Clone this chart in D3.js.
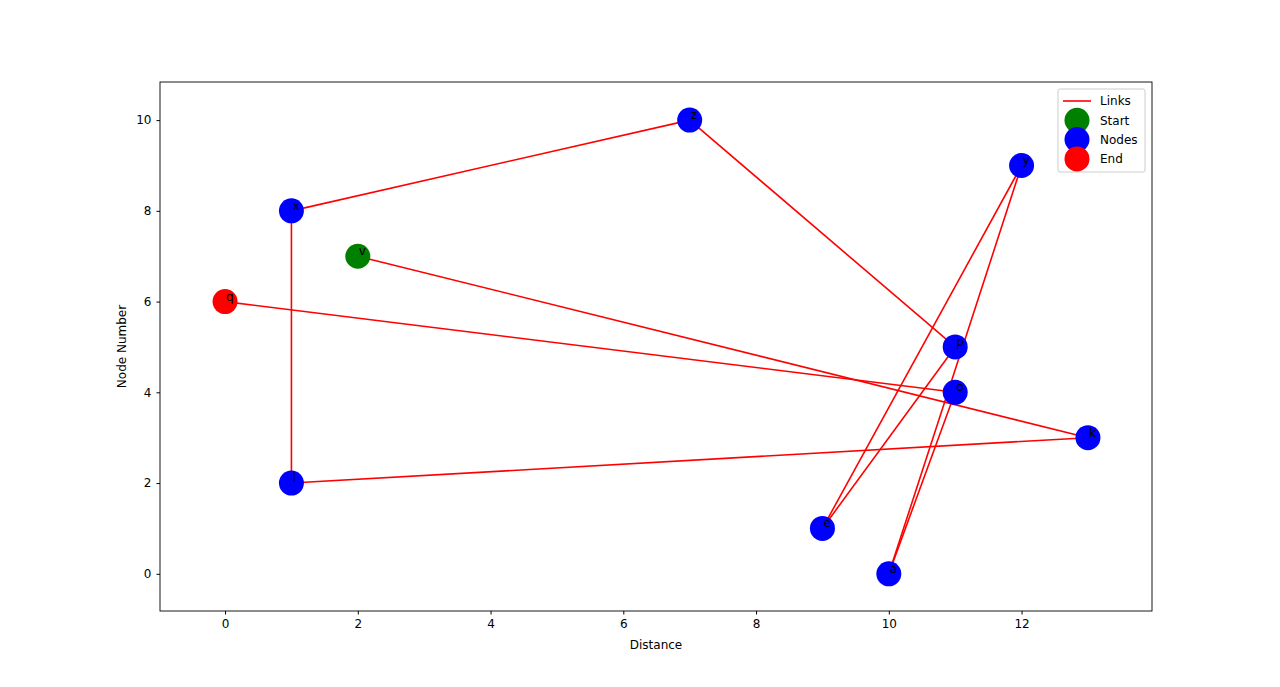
<!DOCTYPE html>
<html><head><meta charset="utf-8">
<script src="https://cdn.jsdelivr.net/npm/d3@7"></script>
<style>body{margin:0;background:#fff;font-family:"DejaVu Sans",sans-serif;}</style>
</head><body><div id="chart"></div>
<script>
const width = 1280, height = 687;
const margin = { left: 160, right: 128, top: 82, bottom: 76 };

const nodeNames = ["v", "x", "z", "p", "e", "y", "a", "o", "q", "l", "k"];
const nodeX = [2, 1, 7, 11, 9, 12, 10, 11, 0, 1, 13];
const nodeY = [7, 8, 10, 5, 1, 9, 0, 4, 6, 2, 3];
const nodeRole = ["start", "node", "node", "node", "node", "node", "node", "node", "end", "node", "node"];
const links = [["v","k"],["x","z"],["z","p"],["x","l"],["l","k"],["q","o"],["p","e"],["e","y"],["y","a"],["a","o"]];
const xTicks = [0, 2, 4, 6, 8, 10, 12];
const yTicks = [0, 2, 4, 6, 8, 10];
const roleColor = { start: "green", node: "blue", end: "red" };

const nodes = nodeNames.map((n, i) => ({ id: n, x: nodeX[i], y: nodeY[i], role: nodeRole[i] }));
const byId = Object.fromEntries(nodes.map(d => [d.id, d]));

const svg = d3.select("#chart").append("svg").attr("width", width).attr("height", height);
const x = d3.scaleLinear().domain([-0.98, 13.965]).range([margin.left, width - margin.right]);
const y = d3.scaleLinear().domain([-0.82, 10.84]).range([height - margin.bottom, margin.top]);

// axes
const xAxis = svg.append("g").attr("transform", `translate(0,${height - margin.bottom})`)
    .call(d3.axisBottom(x).tickValues(xTicks).tickSize(3.5).tickPadding(5));
const yAxis = svg.append("g").attr("transform", `translate(${margin.left},0)`)
    .call(d3.axisLeft(y).tickValues(yTicks).tickSize(3.5).tickPadding(5));
[xAxis, yAxis].forEach(a => {
    a.select(".domain").remove();
    a.selectAll("text").attr("font-size", 12).attr("font-family", "DejaVu Sans").attr("fill", "#000");
});

// links
svg.selectAll(".link").data(links).enter().append("line")
    .attr("x1", d => x(byId[d[0]].x)).attr("y1", d => y(byId[d[0]].y))
    .attr("x2", d => x(byId[d[1]].x)).attr("y2", d => y(byId[d[1]].y))
    .attr("stroke", "red").attr("stroke-width", 1.6);

// nodes
const node = svg.selectAll(".node").data(nodes).enter().append("g")
    .attr("transform", d => `translate(${x(d.x)},${y(d.y)})`);
node.append("circle").attr("r", 12.5).attr("fill", d => roleColor[d.role]);
node.append("text").attr("dx", 1).attr("dy", -1).attr("font-size", 12).text(d => d.id);

// frame
svg.append("rect").attr("x", margin.left).attr("y", margin.top)
    .attr("width", width - margin.left - margin.right).attr("height", height - margin.top - margin.bottom)
    .attr("fill", "none").attr("stroke", "#000").attr("stroke-width", 0.9);

// axis titles
svg.append("text").attr("x", (margin.left + width - margin.right) / 2).attr("y", 649)
    .attr("text-anchor", "middle").attr("font-size", 12).text("Distance");
svg.append("text").attr("transform", `translate(126,${(margin.top + height - margin.bottom) / 2}) rotate(-90)`)
    .attr("text-anchor", "middle").attr("font-size", 12).text("Node Number");

// legend
const leg = svg.append("g").attr("transform", "translate(1058,89)");
leg.append("rect").attr("width", 87).attr("height", 83).attr("rx", 2)
    .attr("fill", "#fff").attr("fill-opacity", 0.8).attr("stroke", "#ccc");
const legItems = [["Links", "line", "red"], ["Start", "dot", "green"], ["Nodes", "dot", "blue"], ["End", "dot", "red"]];
legItems.forEach((d, i) => {
    const g = leg.append("g").attr("transform", `translate(0,${12 + i * 19.3})`);
    if (d[1] === "line") g.append("line").attr("x1", 5).attr("x2", 33).attr("stroke", d[2]).attr("stroke-width", 1.6);
    else g.append("circle").attr("cx", 19).attr("r", 12.5).attr("fill", d[2]);
    g.append("text").attr("x", 42).attr("dy", "0.35em").attr("font-size", 12).text(d[0]);
});
</script></body></html>
